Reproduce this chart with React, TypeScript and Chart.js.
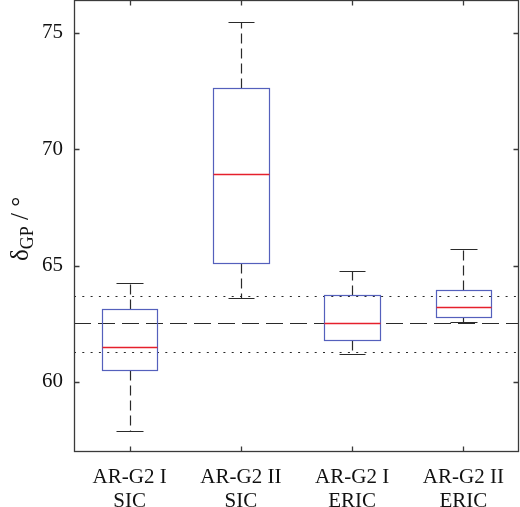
import React, { useEffect, useRef } from "react";
import { Chart, registerables } from "chart.js";

Chart.register(...registerables);

// ---- data ----
const CATEGORY_LINE1 = ["AR-G2 I", "AR-G2 II", "AR-G2 I", "AR-G2 II"];
const CATEGORY_LINE2 = ["SIC", "SIC", "ERIC", "ERIC"];
const WHISKER_LOW = [57.9, 63.59, 61.19, 62.59];
const Q1 = [60.49, 65.13, 61.82, 62.77];
const MEDIAN = [61.49, 68.93, 62.55, 63.21];
const Q3 = [63.13, 72.61, 63.75, 63.96];
const WHISKER_HIGH = [64.24, 75.48, 64.78, 65.7];
const MEAN_LINE = 62.51;
const BAND_LINES = [61.3, 63.69];
const Y_TICKS = [60, 65, 70, 75];
const Y_MIN = 57.03;
const Y_MAX = 76.37;

// ---- styles ----
const FONT = "'Liberation Serif', 'Times New Roman', serif";
const BOX_HALF = 0.25;
const CAP_HALF = 0.12;
const AXIS_COLOR = "#3a3a3a";
const BOX_COLOR = "#5460bc";
const MEDIAN_COLOR = "#e5202c";
const WHISKER_COLOR = "#2a2a2a";
const TICK_LEN = 5;

const px = (v: number) => Math.round(v) + 0.5;

const boxPlugin = {
  id: "boxplot",
  afterDatasetsDraw(chart: any) {
    const { ctx, chartArea: a, scales } = chart;
    const xs = scales.x;
    const ys = scales.y;
    ctx.save();
    ctx.beginPath();
    ctx.rect(a.left, a.top, a.right - a.left, a.bottom - a.top);
    ctx.clip();

    const hline = (v: number, dash: number[]) => {
      const yy = px(ys.getPixelForValue(v));
      ctx.save();
      ctx.strokeStyle = WHISKER_COLOR;
      ctx.lineWidth = 1.2;
      ctx.setLineDash(dash);
      ctx.beginPath();
      ctx.moveTo(a.left, yy);
      ctx.lineTo(a.right, yy);
      ctx.stroke();
      ctx.restore();
    };
    hline(MEAN_LINE, [17, 7]);
    BAND_LINES.forEach((v) => hline(v, [2, 6.3]));

    MEDIAN.forEach((m, i) => {
      const c = i + 1;
      const xc = px(xs.getPixelForValue(c));
      const xl = px(xs.getPixelForValue(c - BOX_HALF));
      const xr = px(xs.getPixelForValue(c + BOX_HALF));
      const cl = px(xs.getPixelForValue(c - CAP_HALF));
      const cr = px(xs.getPixelForValue(c + CAP_HALF));
      const yLo = px(ys.getPixelForValue(WHISKER_LOW[i]));
      const yQ1 = px(ys.getPixelForValue(Q1[i]));
      const yMed = px(ys.getPixelForValue(m));
      const yQ3 = px(ys.getPixelForValue(Q3[i]));
      const yHi = px(ys.getPixelForValue(WHISKER_HIGH[i]));

      // whiskers (dashed)
      ctx.strokeStyle = WHISKER_COLOR;
      ctx.lineWidth = 1.2;
      ctx.setLineDash([10, 5]);
      ctx.beginPath();
      ctx.moveTo(xc, yQ3);
      ctx.lineTo(xc, yHi);
      ctx.moveTo(xc, yQ1);
      ctx.lineTo(xc, yLo);
      ctx.stroke();
      ctx.setLineDash([]);
      // caps
      ctx.beginPath();
      ctx.moveTo(cl, yHi);
      ctx.lineTo(cr, yHi);
      ctx.moveTo(cl, yLo);
      ctx.lineTo(cr, yLo);
      ctx.stroke();
      // box
      ctx.strokeStyle = BOX_COLOR;
      ctx.lineWidth = 1.2;
      ctx.strokeRect(xl, yQ3, xr - xl, yQ1 - yQ3);
      // median
      ctx.strokeStyle = MEDIAN_COLOR;
      ctx.lineWidth = 1.5;
      ctx.beginPath();
      ctx.moveTo(xl, yMed);
      ctx.lineTo(xr, yMed);
      ctx.stroke();
    });
    ctx.restore();

    // frame and inward ticks
    ctx.save();
    ctx.strokeStyle = AXIS_COLOR;
    ctx.lineWidth = 1.3;
    const L = px(a.left), R = px(a.right - 1), T = px(a.top - 1), B = px(a.bottom);
    ctx.strokeRect(L, T, R - L, B - T);
    ctx.beginPath();
    MEDIAN.forEach((_, i) => {
      const xx = px(xs.getPixelForValue(i + 1));
      ctx.moveTo(xx, B);
      ctx.lineTo(xx, B - TICK_LEN);
      ctx.moveTo(xx, T);
      ctx.lineTo(xx, T + TICK_LEN);
    });
    Y_TICKS.forEach((v) => {
      const yy = px(ys.getPixelForValue(v));
      ctx.moveTo(L, yy);
      ctx.lineTo(L + TICK_LEN, yy);
      ctx.moveTo(R, yy);
      ctx.lineTo(R - TICK_LEN, yy);
    });
    ctx.stroke();
    ctx.restore();

    // y-axis title: δ_GP / °
    ctx.save();
    ctx.fillStyle = "#111";
    ctx.translate(28, 261);
    ctx.rotate(-Math.PI / 2);
    ctx.textBaseline = "alphabetic";
    ctx.textAlign = "left";
    ctx.font = `25px ${FONT}`;
    ctx.fillText("δ", 0, 0);
    let off = ctx.measureText("δ").width;
    ctx.font = `18px ${FONT}`;
    ctx.fillText("GP", off, 5);
    off += ctx.measureText("GP").width;
    ctx.font = `25px ${FONT}`;
    ctx.fillText(" / °", off, 0);
    ctx.restore();
  },
};

export default function App() {
  const ref = useRef<HTMLCanvasElement | null>(null);
  useEffect(() => {
    if (!ref.current) return;
    const chart = new Chart(ref.current, {
      type: "scatter",
      data: {
        datasets: [
          {
            data: MEDIAN.map((m, i) => ({ x: i + 1, y: m })),
            pointRadius: 0,
            showLine: false,
          },
        ],
      },
      options: {
        animation: false,
        responsive: false,
        devicePixelRatio: 1,
        layout: { padding: { top: 1, right: 1, left: 0, bottom: 0 } },
        plugins: { legend: { display: false }, tooltip: { enabled: false } },
        scales: {
          x: {
            type: "linear",
            min: 0.5,
            max: 4.5,
            afterBuildTicks: (s: any) => {
              s.ticks = CATEGORY_LINE1.map((_, i) => ({ value: i + 1 }));
            },
            afterFit: (s: any) => {
              s.height = 56;
              s.paddingLeft = 0;
              s.paddingRight = 0;
              s.paddingTop = 0;
              s.paddingBottom = 0;
            },
            ticks: {
              autoSkip: false,
              maxRotation: 0,
              padding: 15,
              color: "#111",
              font: { family: FONT, size: 21, lineHeight: 1.14 },
              callback: (v: any) => {
                const i = Math.round(Number(v)) - 1;
                return [CATEGORY_LINE1[i], CATEGORY_LINE2[i]];
              },
            },
            grid: { display: false, drawTicks: false },
            border: { display: false },
          },
          y: {
            min: Y_MIN,
            max: Y_MAX,
            afterBuildTicks: (s: any) => {
              s.ticks = Y_TICKS.map((v) => ({ value: v }));
            },
            afterFit: (s: any) => {
              s.width = 74;
              s.paddingLeft = 0;
              s.paddingRight = 0;
              s.paddingTop = 0;
              s.paddingBottom = 0;
            },
            ticks: {
              padding: 11,
              color: "#111",
              font: { family: FONT, size: 21 },
            },
            grid: { display: false, drawTicks: false },
            border: { display: false },
          },
        },
      },
      plugins: [boxPlugin],
    } as any);
    return () => chart.destroy();
  }, []);
  return (
    <div style={{ position: "absolute", left: 0, top: 0, width: 520, height: 507, background: "#fff" }}>
      <canvas ref={ref} width={520} height={507} />
    </div>
  );
}
